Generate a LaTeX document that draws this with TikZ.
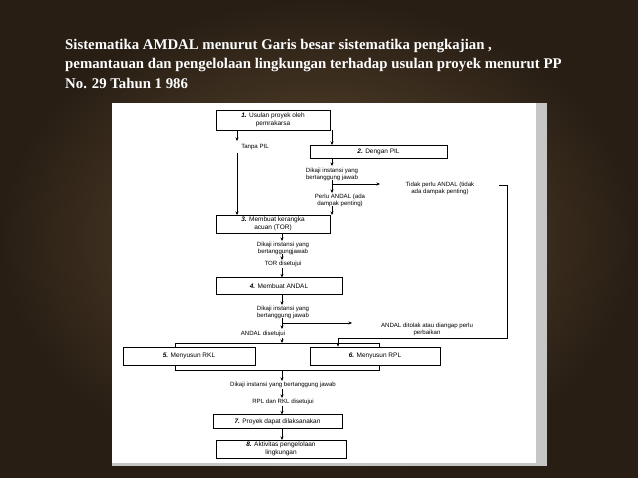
\documentclass[tikz,border=0pt]{standalone}
\usepackage{fontspec}
\setmainfont{Liberation Serif}
\newfontfamily\diag{Liberation Sans}
\usetikzlibrary{arrows.meta}
\definecolor{bgdark}{RGB}{40,30,20}
\definecolor{bgmid}{RGB}{100,78,52}
\begin{document}
\begin{tikzpicture}[x=1pt,y=-1pt,
  box/.style={draw,line width=0.8pt,inner sep=0pt,align=center,font=\diag\fontsize{6.5}{7.5}\selectfont},
  lbl/.style={inner sep=0pt,align=center,font=\diag\fontsize{6.1}{7}\selectfont},
  ar/.style={-{Stealth[length=3.5pt,width=3pt]},line width=0.7pt},
  ln/.style={line width=0.7pt}]
\useasboundingbox (0,0) rectangle (638,478);
\shade[inner color=bgmid,outer color=bgdark] (0,0) rectangle (638,478);
\node[anchor=north west,inner sep=0pt,text=white,align=left,font=\bfseries\fontsize{14.8}{19.5}\selectfont] (title) at (65,39)
 {Sistematika AMDAL menurut Garis besar sistematika pengkajian ,\\pemantauan dan pengelolaan lingkungan terhadap usulan proyek menurut PP\\No. 29 Tahun 1 986};
\fill[gray!45] (112,103) rectangle (547,466);
\fill[white] (112,103) rectangle (536,463);
% boxes
\node[box,minimum width=114,minimum height=20] (b1) at (273,120) {\textbf{\textit{1.}} Usulan proyek oleh\\pemrakarsa};
\node[box,minimum width=137,minimum height=13] (b2) at (378.5,151.5) {\textbf{\textit{2.}} Dengan PIL};
\node[box,minimum width=114,minimum height=18] (b3) at (273,224) {\textbf{\textit{3.}} Membuat kerangka\\acuan (TOR)};
\node[box,minimum width=126,minimum height=17] (b4) at (279,286) {\textbf{\textit{4.}} Membuat ANDAL};
\node[box,minimum width=132,minimum height=18] (b5) at (189,356) {\textbf{\textit{5.}} Menyusun RKL};
\node[box,minimum width=130,minimum height=18] (b6) at (375,356) {\textbf{\textit{6.}} Menyusun RPL};
\node[box,minimum width=129,minimum height=14] (b7) at (277.5,421.5) {\textbf{\textit{7.}} Proyek dapat dilaksanakan};
\node[box,minimum width=130,minimum height=18] (b8) at (281,449) {\textbf{\textit{8.}} Aktivitas pengelolaan\\lingkungan};
% labels
\node[lbl] (tp) at (255,147) {Tanpa PIL};
\node[lbl] (d1) at (332,174) {Dikaji instansi yang\\bertanggung jawab};
\node[lbl] (tp2) at (440,188) {Tidak perlu ANDAL (tidak\\ada dampak penting)};
\node[lbl] (pa) at (340,200) {Perlu ANDAL (ada\\dampak penting)};
\node[lbl] (d2) at (283,248) {Dikaji instansi yang\\bertanggungjawab};
\node[lbl] (tor) at (283,264) {TOR disetujui};
\node[lbl] (d3) at (283,312) {Dikaji instansi yang\\bertanggung jawab};
\node[lbl] (tol) at (427,329) {ANDAL ditolak atau diangap perlu\\perbaikan};
\node[lbl] (ads) at (263,334) {ANDAL disetujui};
\node[lbl] (d4) at (283,385) {Dikaji instansi yang bertanggung jawab};
\node[lbl] (rr) at (283,402) {RPL dan RKL disetujui};
% coordinates
\coordinate (j1) at (332,184);
\coordinate (j2) at (282,323);
\coordinate (bt) at (282,343);
\coordinate (bb) at (282,370);
% connectors
\draw[ar] (237,130) -- (237,141);
\draw[ar] (237,153) -- (237,215);
\draw[ar] (332,130) -- (332,145);
\draw[ar] (332,158) -- (332,166);
\draw[ln] (332,180) -- (j1);
\draw[ar] (j1) -- (380,184);
\draw[ar] (j1) -- (332,193);
\draw[ar] (332,206) -- (332,215);
\draw[ln] (499,185) -- (507,185) -- (507,338) -- (338,338);
\draw[ar] (338,338) -- (b6.north -| 338,0);
\draw[ar] (282,233) -- (282,241);
\draw[ar] (282,254) -- (282,260);
\draw[ar] (282,268) -- (282,277.5);
\draw[ar] (282,294.5) -- (282,305);
\draw[ln] (282,318) -- (j2);
\draw[ar] (j2) -- (352,323);
\draw[ar] (j2) -- (282,329);
\draw[ar] (282,338) -- (bt);
\draw[ln] (175,347) -- (175,343) -- (379,343) -- (379,347);
\draw[ln] (175,365) -- (175,370) -- (379,370) -- (379,365);
\draw[ar] (bb) -- (282,381);
\draw[ar] (282,389) -- (282,398);
\draw[ar] (282,406) -- (282,414.5);
\draw[ar] (282,428.5) -- (282,440);
\end{tikzpicture}
\end{document}
